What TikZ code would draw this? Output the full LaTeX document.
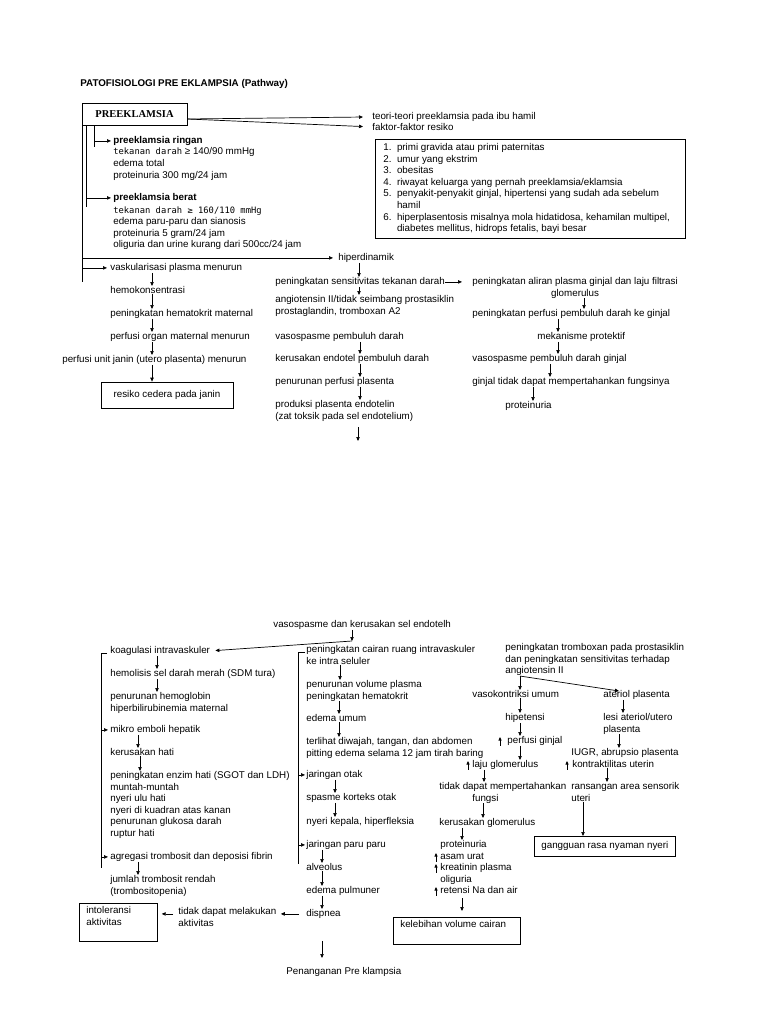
\documentclass[tikz,border=0pt]{standalone}
\usepackage{fontspec}
\setmainfont{Liberation Sans}
\newfontfamily\titlefont{Liberation Serif}
\newfontfamily\monofont{DejaVu Sans Mono}
\usetikzlibrary{arrows.meta, positioning, calc}

\newcommand{\tekanan}{{\monofont\fontsize{8.8}{11.6}\selectfont tekanan darah}}
% vertical arrow between two stacked texts at a given x
\newcommand{\turun}[3]{\draw[arr] (#1.south -| #3,0) -- (#2.north -| #3,0);}
% small up mark in front of a text line
\newcommand{\naik}[2]{\draw[tick] (#1,#2+4.5) -- (#1,#2-4);}

\begin{document}
\begin{tikzpicture}[
    x=1pt, y=-1pt,
    font=\fontsize{9.8}{11.6}\selectfont,
    line width=0.7pt,
    txt/.style={anchor=north west, inner sep=0pt, align=left, yshift=5pt},
    head/.style={txt, font=\fontsize{9.8}{11.6}\selectfont\bfseries},
    frame/.style={draw, inner sep=0pt},
    arr/.style={-{Triangle[length=4pt, width=3.4pt]}},
    tick/.style={-{Triangle[length=3.5pt, width=3pt]}},
  ]
  \useasboundingbox (0,0) rectangle (768,1024);

  % ---------- top part ----------
  \node[head] (title) at (80,84) {PATOFISIOLOGI PRE EKLAMPSIA (Pathway)};
  \node[draw, minimum width=105pt, minimum height=22pt,
        font=\titlefont\bfseries\fontsize{10.5}{12}\selectfont] (pre) at (134.5,114) {PREEKLAMSIA};

  \node[txt] (teori) at (372,117) {teori-teori preeklamsia pada ibu hamil};
  \node[txt] (faktor) at (372,128) {faktor-faktor resiko};
  \coordinate (s) at ([yshift=-5pt]pre.east);
  \draw[arr, shorten >=9pt] (s) -- (teori.west);
  \draw[arr, shorten >=9pt] (s) -- (faktor.west);

  \node[draw, anchor=north west, inner xsep=8pt, inner ysep=3pt] (risiko) at (375,139) {%
    \begin{tabular}{@{}r@{\hspace{5.5pt}}p{280pt}@{}}
      1. & primi gravida atau primi paternitas\\
      2. & umur yang ekstrim\\
      3. & obesitas\\
      4. & riwayat keluarga yang pernah preeklamsia/eklamsia\\
      5. & penyakit-penyakit ginjal, hipertensi yang sudah ada sebelum\\
         & hamil\\
      6. & hiperplasentosis misalnya mola hidatidosa, kehamilan multipel,\\
         & diabetes mellitus, hidrops fetalis, bayi besar
    \end{tabular}};

  % brackets under the main box
  \coordinate (l1) at ([xshift=1pt]pre.south west);
  \coordinate (l2) at ([xshift=5pt]pre.south west);
  \coordinate (l3) at ([xshift=13pt]pre.south west);
  \draw (l1) -- ++(0,157) coordinate (l1e);
  \draw (l2) -- ++(0,82) coordinate (l2e);
  \draw (l3) -- ++(0,22) coordinate (l3e);

  \node[head] (ringan) at (113,141) {preeklamsia ringan};
  \node[txt] (ringanket) at (113,152.5) {\tekanan{} ≥ 140/90 mmHg\\edema total\\proteinuria 300 mg/24 jam};
  \node[head] (berat) at (113,198) {preeklamsia berat};
  \node[txt] (beratket) at (113,211) {{\monofont\fontsize{8.8}{11.6}\selectfont tekanan darah ≥ 160/110 mmHg}\\edema paru-paru dan sianosis\\proteinuria 5 gram/24 jam\\oliguria dan urine kurang dari 500cc/24 jam};
  \draw[arr, shorten >=2pt] (l3e |- ringan.west) -- (ringan.west);
  \draw[arr, shorten >=2pt] (l2e |- berat.west) -- (berat.west);

  \node[txt] (hiper) at (338,258) {hiperdinamik};
  \node[txt] (vask) at (110,268) {vaskularisasi plasma menurun};
  \draw[arr, shorten >=5pt] (l1e |- hiper.west) -- (hiper.west);
  \draw[arr, shorten >=3pt] (l1e |- vask.west) -- (vask.west);

  % left column
  \node[txt] (hemo) at (110,291) {hemokonsentrasi};
  \node[txt] (hemat) at (110,314) {peningkatan hematokrit maternal};
  \node[txt] (organ) at (110,337) {perfusi organ maternal menurun};
  \node[txt] (unit) at (62,360) {perfusi unit janin (utero plasenta) menurun};
  \node[frame, minimum width=132pt, minimum height=26pt] (cedera) at (167,395) {resiko cedera pada janin};
  \turun{vask}{hemo}{152}
  \turun{hemo}{hemat}{152}
  \turun{hemat}{organ}{152}
  \turun{organ}{unit}{152}
  \turun{unit}{cedera}{152}

  % middle column
  \node[txt] (sens) at (275,282) {peningkatan sensitivitas tekanan darah};
  \node[txt] (ang) at (275,300) {angiotensin II/tidak seimbang prostasiklin\\prostaglandin, tromboxan A2};
  \node[txt] (vaso) at (275,337) {vasospasme pembuluh darah};
  \node[txt] (kerus) at (275,359) {kerusakan endotel pembuluh darah};
  \node[txt] (perf) at (275,382) {penurunan perfusi plasenta};
  \node[txt] (prod) at (275,405) {produksi plasenta endotelin\\(zat toksik pada sel endotelium)};
  \coordinate (prodend) at (358,441);
  \turun{hiper}{sens}{359}
  \turun{sens}{ang}{359}
  \turun{vaso}{kerus}{360}
  \turun{kerus}{perf}{360}
  \turun{perf}{prod}{360}
  \draw[arr, shorten <=6pt] (prod.south -| prodend) -- (prodend);

  % right column
  \node[txt, align=center] (aliran) at (472,282) {peningkatan aliran plasma ginjal dan laju filtrasi\\glomerulus};
  \node[txt] (perfG) at (472,314) {peningkatan perfusi pembuluh darah ke ginjal};
  \node[txt] (mek) at (537,337) {mekanisme protektif};
  \node[txt] (vasoG) at (472,359) {vasospasme pembuluh darah ginjal};
  \node[txt] (ginjal) at (472,382) {ginjal tidak dapat mempertahankan fungsinya};
  \node[txt] (prot1) at (505,406) {proteinuria};
  \draw[arr, shorten >=10pt] (sens.east) -- (sens.east -| aliran.west);
  \turun{aliran}{perfG}{584}
  \turun{perfG}{mek}{558}
  \turun{mek}{vasoG}{558}
  \turun{vasoG}{ginjal}{550}
  \turun{ginjal}{prot1}{533}

  % ---------- bottom part ----------
  \node[txt] (vsk) at (273,625) {vasospasme dan kerusakan sel endotelh};
  \coordinate (split) at (352,641);
  \draw[arr] (vsk.south -| split) -- (split);

  % left column
  \node[txt] (koag) at (110,651) {koagulasi intravaskuler};
  \draw[arr, shorten >=5pt] (split) -- (koag.east);
  \draw ([xshift=-3pt]koag.base west) -| (101,868) coordinate (lb);
  \node[txt] (hemol) at (110,674) {hemolisis sel darah merah (SDM tura)};
  \node[txt] (penurun) at (110,697) {penurunan hemoglobin\\hiperbilirubinemia maternal};
  \node[txt] (mikro) at (110,730) {mikro emboli hepatik};
  \node[txt] (kerH) at (110,753) {kerusakan hati};
  \node[txt] (enzim) at (110,776) {peningkatan enzim hati (SGOT dan LDH)\\muntah-muntah\\nyeri ulu hati\\nyeri di kuadran atas kanan\\penurunan glukosa darah\\ruptur hati};
  \node[txt] (agreg) at (110,857) {agregasi trombosit dan deposisi fibrin};
  \node[txt] (jumlah) at (110,880) {jumlah trombosit rendah\\(trombositopenia)};
  \draw[arr, shorten >=2pt] (lb |- mikro.west) -- (mikro.west);
  \draw[arr, shorten >=2pt] (lb |- agreg.west) -- (agreg.west);
  \turun{koag}{hemol}{157}
  \turun{hemol}{penurun}{157}
  \turun{mikro}{kerH}{138}
  \turun{kerH}{enzim}{140}
  \turun{agreg}{jumlah}{138}

  \node[frame, anchor=north west, inner xsep=7pt, inner ysep=3pt] (intol) at (79,903)
    {\parbox[t][32pt][t]{64pt}{intoleransi\\aktivitas}};
  \node[txt] (tidak) at (178,912) {tidak dapat melakukan\\aktivitas};

  % middle column
  \node[txt] (cairan) at (306,650) {peningkatan cairan ruang intravaskuler\\ke intra seluler};
  \draw ([xshift=-1pt, yshift=-7pt]cairan.north west) -| (298,864) coordinate (mb);
  \node[txt] (volume) at (306,685) {penurunan volume plasma\\peningkatan hematokrit};
  \node[txt] (edema) at (306,719) {edema umum};
  \node[txt] (terlihat) at (306,742) {terlihat diwajah, tangan, dan abdomen\\pitting edema selama 12 jam tirah baring};
  \node[txt] (otak) at (306,775) {jaringan otak};
  \node[txt] (spasme) at (306,798) {spasme korteks otak};
  \node[txt] (nyeriK) at (306,822) {nyeri kepala, hiperfleksia};
  \node[txt] (paru) at (306,845) {jaringan paru paru};
  \node[txt] (alv) at (306,868) {alveolus};
  \node[txt] (edemaP) at (306,891) {edema pulmuner};
  \node[txt] (disp) at (306,914) {dispnea};
  \node[txt] (pen) at (286,972) {Penanganan Pre klampsia};
  \draw[arr, shorten >=1pt] (mb |- otak.west) -- (otak.west);
  \draw[arr, shorten >=1pt] (mb |- paru.west) -- (paru.west);
  \turun{cairan}{volume}{340}
  \turun{volume}{edema}{339}
  \turun{edema}{terlihat}{339}
  \turun{otak}{spasme}{335}
  \turun{spasme}{nyeriK}{335}
  \turun{paru}{alv}{322}
  \turun{alv}{edemaP}{322}
  \turun{edemaP}{disp}{322}
  \draw[arr, shorten <=22pt, shorten >=9pt] (disp.south -| 322,0) -- (pen.north -| 322,0);
  \draw[arr, shorten <=7pt, shorten >=4pt] (disp.west) -- (disp.west -| tidak.east);
  \draw[arr, shorten <=5pt, shorten >=4pt] (tidak.west |- disp.west) -- (intol.east |- disp.west);

  % right column
  \node[txt] (trom) at (505,648) {peningkatan tromboxan pada prostasiklin\\dan peningkatan sensitivitas terhadap\\angiotensin II};
  \coordinate (fk) at (trom.south -| 520,0);
  \node[txt] (vasok) at (472,695) {vasokontriksi umum};
  \node[txt] (ateriol) at (603,695) {ateriol plasenta};
  \draw[arr] (fk) -- (vasok.north -| fk);
  \draw[arr] (fk) -- ([xshift=16pt, yshift=-1pt]ateriol.north west);
  \node[txt] (hip) at (505,718) {hipetensi};
  \node[txt] (perfG2) at (507,741) {perfusi ginjal};
  \node[txt] (laju) at (472,765) {laju glomerulus};
  \node[txt] (tdm) at (439,787) {tidak dapat mempertahankan\\\hspace*{33pt}fungsi};
  \node[txt] (kerG) at (439,823) {kerusakan glomerulus};
  \node[txt] (prot2) at (440,845) {proteinuria\\asam urat\\kreatinin plasma\\oliguria\\retensi Na dan air};
  \node[frame, anchor=north west, inner xsep=7pt, inner ysep=3pt] (lebih) at (393,917)
    {\parbox[t][21pt][t]{113pt}{kelebihan volume cairan}};
  \naik{500}{741}
  \naik{468}{765}
  \naik{436}{857}
  \naik{436}{868}
  \naik{436}{891}
  \turun{vasok}{hip}{520}
  \turun{hip}{perfG2}{520}
  \turun{perfG2}{laju}{520}
  \turun{laju}{tdm}{484}
  \turun{tdm}{kerG}{483}
  \turun{kerG}{prot2}{462}
  \draw[arr, shorten <=4pt, shorten >=6pt] (prot2.south -| 462,0) -- (lebih.north -| 462,0);

  \node[txt] (lesi) at (603,718) {lesi ateriol/utero\\plasenta};
  \node[txt] (iugr) at (571,753) {IUGR, abrupsio plasenta};
  \node[txt] (kontr) at (572,765) {kontraktilitas uterin};
  \node[txt] (rans) at (571,787) {ransangan area sensorik\\uteri};
  \node[frame, anchor=north west, minimum width=141pt, minimum height=20pt] (gang) at (534,836) {gangguan rasa nyaman nyeri};
  \naik{567}{765}
  \turun{ateriol}{lesi}{623}
  \turun{lesi}{iugr}{619}
  \turun{kontr}{rans}{607}
  \turun{rans}{gang}{583}
\end{tikzpicture}
\end{document}
